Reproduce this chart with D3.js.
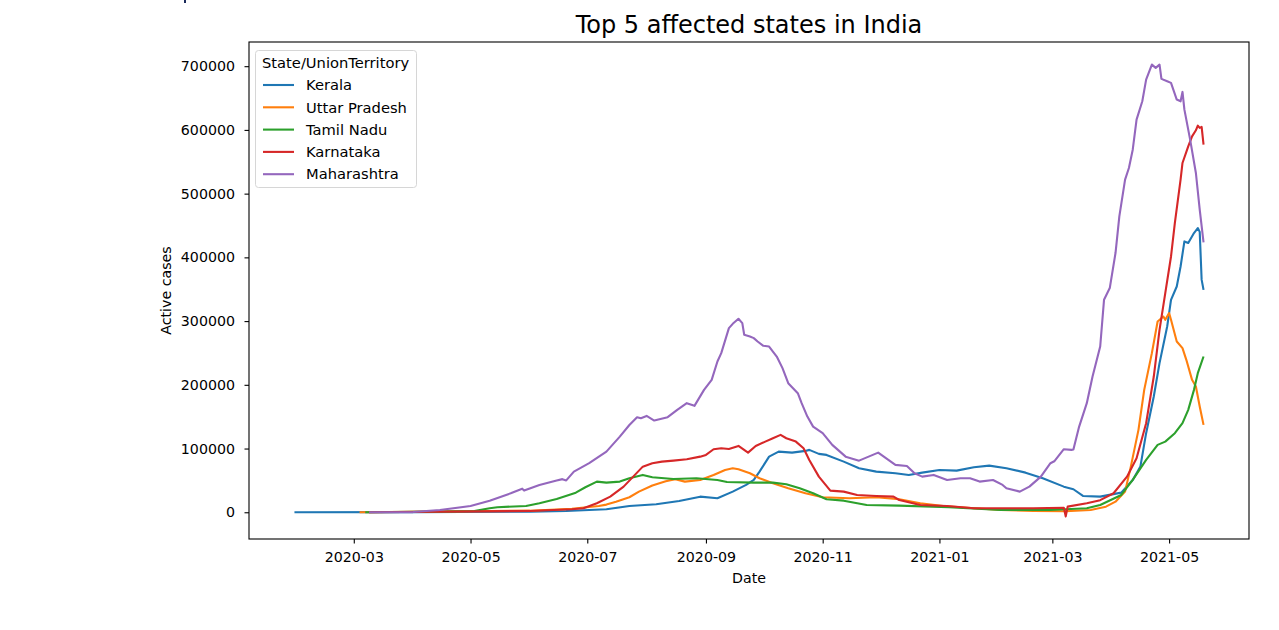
<!DOCTYPE html>
<html>
<head>
<meta charset="utf-8">
<script src="https://cdnjs.cloudflare.com/ajax/libs/d3/7.8.5/d3.min.js"></script>
<style>
	body{margin:0;background:#fff;}
	text{font-family:"DejaVu Sans", sans-serif;}
</style>
</head>
<body>
<div id="chart"></div>
<script>
//********************************* DATA *********************************
var states = ["Kerala", "Uttar Pradesh", "Tamil Nadu", "Karnataka", "Maharashtra"];
var colors = ["#1f77b4", "#ff7f0e", "#2ca02c", "#d62728", "#9467bd"];

var kerala = [["2020-01-30",0],["2020-04-01",200],["2020-06-01",1000],["2020-06-20",2000],["2020-07-11",4700],
	["2020-07-23",9900],["2020-08-06",12600],["2020-08-18",17700],["2020-08-29",24500],["2020-09-07",22000],
	["2020-09-15",32400],["2020-09-22",42900],["2020-09-26",50700],["2020-09-29",63800],["2020-10-04",87300],
	["2020-10-09",95200],["2020-10-16",93600],["2020-10-23",96300],["2020-10-25",97900],["2020-10-30",91600],
	["2020-11-03",90000],["2020-11-12",79500],["2020-11-20",69100],["2020-11-29",63800],["2020-12-09",61200],
	["2020-12-16",58600],["2020-12-23",62200],["2021-01-01",66400],["2021-01-10",65300],["2021-01-19",70700],
	["2021-01-27",73200],["2021-02-05",69100],["2021-02-15",62200],["2021-02-24",53400],["2021-03-07",40200],
	["2021-03-12",36100],["2021-03-17",25600],["2021-03-26",24500],["2021-04-06",30800],["2021-04-12",50700],
	["2021-04-16",71600],["2021-04-19",124100],["2021-04-23",181600],["2021-04-26",234000],["2021-04-30",291500],
	["2021-05-02",333400],["2021-05-05",354300],["2021-05-07",385700],["2021-05-09",425000],["2021-05-11",422500],
	["2021-05-14",438200],["2021-05-16",446000],["2021-05-17",440000],["2021-05-18",365000],["2021-05-19",349000]];

var uttarPradesh = [["2020-03-04",0],["2020-05-01",1500],["2020-06-01",2500],["2020-06-23",5500],["2020-07-07",9900],
	["2020-07-11",12000],["2020-07-16",16600],["2020-07-23",23600],["2020-07-28",32400],["2020-08-04",42000],
	["2020-08-11",48600],["2020-08-16",51800],["2020-08-21",48100],["2020-08-29",50700],["2020-09-05",58600],
	["2020-09-11",66400],["2020-09-15",69100],["2020-09-18",67500],["2020-09-24",61200],["2020-09-29",53400],
	["2020-10-06",45500],["2020-10-14",37700],["2020-10-23",29800],["2020-11-01",23600],["2020-11-15",22000],
	["2020-11-29",23600],["2020-12-11",20400],["2020-12-22",14100],["2021-01-03",9900],["2021-01-16",7200],
	["2021-02-02",3600],["2021-02-19",2000],["2021-03-08",1500],["2021-03-21",3600],["2021-03-29",8800],
	["2021-04-03",16600],["2021-04-08",32400],["2021-04-11",71600],["2021-04-15",129300],["2021-04-18",192100],
	["2021-04-22",249700],["2021-04-25",299400],["2021-04-28",307200],["2021-04-29",302000],["2021-05-01",312500],
	["2021-05-02",302000],["2021-05-05",268000],["2021-05-08",257600],["2021-05-10",239200],["2021-05-13",207800],
	["2021-05-15",197300],["2021-05-17",165900],["2021-05-19",137100]];

var tamilNadu = [["2020-03-07",0],["2020-04-15",1000],["2020-05-03",2000],["2020-05-11",6300],["2020-05-15",7900],
	["2020-05-30",9900],["2020-06-06",14100],["2020-06-15",20900],["2020-06-25",30800],["2020-06-30",39300],
	["2020-07-06",48100],["2020-07-11",46500],["2020-07-18",48100],["2020-07-23",53400],["2020-07-30",58600],
	["2020-08-04",55000],["2020-08-15",52300],["2020-08-27",53400],["2020-09-07",50700],["2020-09-12",47600],
	["2020-09-26",46500],["2020-10-06",46500],["2020-10-13",44000],["2020-10-20",37700],["2020-10-27",29800],
	["2020-11-03",20400],["2020-11-12",18200],["2020-11-24",11500],["2020-12-11",10400],["2021-01-06",7900],
	["2021-02-02",3600],["2021-02-28",3600],["2021-03-19",6300],["2021-03-26",11500],["2021-04-06",27200],
	["2021-04-12",50700],["2021-04-19",82100],["2021-04-25",105700],["2021-04-29",110900],["2021-05-04",124100],
	["2021-05-08",139800],["2021-05-11",160700],["2021-05-14",192100],["2021-05-16",218300],["2021-05-19",244400]];

var karnataka = [["2020-03-09",0],["2020-06-01",2000],["2020-06-23",4700],["2020-06-29",6300],["2020-07-06",14100],
	["2020-07-13",24500],["2020-07-20",40200],["2020-07-25",55900],["2020-07-30",71600],["2020-08-04",77000],
	["2020-08-09",79500],["2020-08-15",81000],["2020-08-22",83200],["2020-08-29",87300],["2020-09-01",90000],
	["2020-09-05",98900],["2020-09-09",100500],["2020-09-13",99400],["2020-09-18",104100],["2020-09-23",93600],
	["2020-09-27",104100],["2020-10-02",110900],["2020-10-06",116200],["2020-10-10",121400],["2020-10-13",116200],
	["2020-10-18",110900],["2020-10-22",100500],["2020-10-25",82100],["2020-10-30",55900],["2020-11-05",34000],
	["2020-11-12",32400],["2020-11-19",27200],["2020-11-29",25600],["2020-12-08",24500],["2020-12-11",19300],
	["2020-12-22",11500],["2021-01-05",9900],["2021-01-19",6300],["2021-02-02",6300],["2021-02-19",6300],
	["2021-03-07",7200],["2021-03-08",-6500],["2021-03-09",8800],["2021-03-19",14100],["2021-03-26",19000],
	["2021-04-02",29800],["2021-04-09",55900],["2021-04-14",84800],["2021-04-19",139800],["2021-04-23",213000],
	["2021-04-26",286300],["2021-04-29",344000],["2021-05-02",401400],["2021-05-04",453900],["2021-05-07",521900],
	["2021-05-08",548100],["2021-05-11",574200],["2021-05-13",589900],["2021-05-15",599400],["2021-05-16",606700],
	["2021-05-17",603100],["2021-05-18",604700],["2021-05-19",576900]];

var maharashtra = [["2020-03-09",0],["2020-03-20",50],["2020-04-01",300],["2020-04-15",3500],["2020-05-01",9900],
	["2020-05-11",18000],["2020-05-22",29800],["2020-05-28",37000],["2020-05-29",34000],["2020-06-06",42900],
	["2020-06-15",50000],["2020-06-18",52000],["2020-06-20",50000],["2020-06-24",63800],["2020-07-02",77000],
	["2020-07-11",95200],["2020-07-18",118700],["2020-07-23",137000],["2020-07-27",149200],["2020-07-29",147600],
	["2020-08-01",151200],["2020-08-05",143900],["2020-08-12",149200],["2020-08-17",160600],["2020-08-22",171200],
	["2020-08-26",167000],["2020-08-31",192000],["2020-09-04",207800],["2020-09-07",236500],["2020-09-09",249700],
	["2020-09-13",289000],["2020-09-15",295700],["2020-09-18",303600],["2020-09-20",296800],["2020-09-21",278500],
	["2020-09-24",275800],["2020-09-26",273300],["2020-09-28",268000],["2020-10-01",261200],["2020-10-04",260100],
	["2020-10-08",244400],["2020-10-11",226200],["2020-10-14",202600],["2020-10-19",186900],["2020-10-21",171200],
	["2020-10-24",150200],["2020-10-27",134400],["2020-11-01",124100],["2020-11-06",105700],["2020-11-13",87300],
	["2020-11-20",81000],["2020-11-30",93600],["2020-12-09",74300],["2020-12-15",72700],["2020-12-19",61200],
	["2020-12-23",55900],["2020-12-29",58600],["2021-01-05",50700],["2021-01-12",53400],["2021-01-17",53400],
	["2021-01-22",48100],["2021-01-29",50700],["2021-02-03",42900],["2021-02-05",37700],["2021-02-12",32400],
	["2021-02-17",40200],["2021-02-23",55900],["2021-02-28",77000],["2021-03-02",80000],["2021-03-07",99000],
	["2021-03-11",97900],["2021-03-12",98500],["2021-03-15",134400],["2021-03-19",171200],["2021-03-22",213000],
	["2021-03-26",260100],["2021-03-28",333400],["2021-03-31",351800],["2021-04-03",406800],["2021-04-05",464300],
	["2021-04-08",521900],["2021-04-10",540300],["2021-04-12",569000],["2021-04-14",616100],["2021-04-17",644900],
	["2021-04-19",679000],["2021-04-22",702500],["2021-04-24",697300],["2021-04-26",702500],["2021-04-27",680100],
	["2021-04-30",676300],["2021-05-02",673800],["2021-05-05",647600],["2021-05-07",644900],["2021-05-08",659600],
	["2021-05-09",631800],["2021-05-12",584700],["2021-05-15",532400],["2021-05-17",474800],["2021-05-19",423400]];

var xTickLabels = ["2020-03","2020-05","2020-07","2020-09","2020-11","2021-01","2021-03","2021-05"];
var yTickValues = [0,100000,200000,300000,400000,500000,600000,700000];

//********************************* SETUP *********************************
var width = 1279, height = 630;
var plotLeft = 249, plotRight = 1249, plotTop = 42, plotBottom = 539;
var fontSize = "14.2px";
var legendFontSize = "14.7px";

var parseDay = d3.timeParse("%Y-%m-%d");
var parseMonth = d3.timeParse("%Y-%m");
var series = [kerala, uttarPradesh, tamilNadu, karnataka, maharashtra];

var svg = d3.select("#chart")
			.append("svg")
			.attr("width", width)
			.attr("height", height);

//matplotlib style 5% margins on both axes
var allPoints = d3.merge(series);
var xExtent = d3.extent(allPoints, function(d){ return parseDay(d[0]); });
var yExtent = d3.extent(allPoints, function(d){ return d[1]; });
var xPad = (xExtent[1] - xExtent[0]) * 0.05;
var yPad = (yExtent[1] - yExtent[0]) * 0.05;

var x = d3.scaleTime()
			.domain([new Date(+xExtent[0] - xPad), new Date(+xExtent[1] + xPad)])
			.range([plotLeft, plotRight]);
var y = d3.scaleLinear()
			.domain([yExtent[0] - yPad, yExtent[1] + yPad])
			.range([plotBottom, plotTop]);

//********************************* AXES *********************************
var xAxis = d3.axisBottom(x)
			.tickValues(xTickLabels.map(parseMonth))
			.tickFormat(d3.timeFormat("%Y-%m"))
			.tickSize(4.5)
			.tickPadding(8.2);
var yAxis = d3.axisLeft(y)
			.tickValues(yTickValues)
			.tickFormat(d3.format("d"))
			.tickSize(4.5)
			.tickPadding(9.5);

var gx = svg.append("g").attr("transform", "translate(0," + plotBottom + ")").call(xAxis);
var gy = svg.append("g").attr("transform", "translate(" + plotLeft + ",0)").call(yAxis);
[gx, gy].forEach(function(g){
	g.select(".domain").remove();
	g.selectAll("line").attr("stroke", "#000").attr("stroke-width", 1.1);
	g.selectAll("text").attr("fill", "#000").style("font-size", fontSize).style("font-family", "DejaVu Sans");
});

//********************************* LINES *********************************
var line = d3.line()
			.x(function(d){ return x(parseDay(d[0])); })
			.y(function(d){ return y(d[1]); });

svg.append("defs").append("clipPath").attr("id", "plotClip")
	.append("rect").attr("x", plotLeft).attr("y", plotTop)
	.attr("width", plotRight - plotLeft).attr("height", plotBottom - plotTop);

for(var i = 0; i < series.length; ++i){
	svg.append("path")
		.datum(series[i])
		.attr("d", line)
		.attr("fill", "none")
		.attr("stroke", colors[i])
		.attr("stroke-width", 2.1)
		.attr("stroke-linejoin", "round")
		.attr("clip-path", "url(#plotClip)");
}

//frame
svg.append("rect")
	.attr("x", plotLeft).attr("y", plotTop)
	.attr("width", plotRight - plotLeft).attr("height", plotBottom - plotTop)
	.attr("fill", "none")
	.attr("stroke", "#000")
	.attr("stroke-width", 1.1);

//********************************* TEXT *********************************
svg.append("text")
	.text("Top 5 affected states in India")
	.attr("x", (plotLeft + plotRight) / 2)
	.attr("y", 33)
	.attr("text-anchor", "middle")
	.style("font-size", "24px")
	.attr("fill", "#000");

svg.append("text")
	.text("Date")
	.attr("x", (plotLeft + plotRight) / 2)
	.attr("y", 583)
	.attr("text-anchor", "middle")
	.style("font-size", fontSize)
	.attr("fill", "#000");

svg.append("text")
	.text("Active cases")
	.attr("transform", "translate(171," + ((plotTop + plotBottom) / 2) + ") rotate(-90)")
	.attr("text-anchor", "middle")
	.style("font-size", fontSize)
	.attr("fill", "#000");

//tiny mark at the very top left of the picture
svg.append("rect").attr("x", 184).attr("y", 0).attr("width", 2).attr("height", 3).attr("fill", "#1a2a5a");

//********************************* LEGEND *********************************
var legend = svg.append("g");
legend.append("rect")
	.attr("x", 255.5).attr("y", 50.5)
	.attr("width", 161).attr("height", 137)
	.attr("rx", 3)
	.attr("fill", "#fff")
	.attr("fill-opacity", 0.8)
	.attr("stroke", "#d6d6d6")
	.attr("stroke-width", 1);

legend.append("text")
	.text("State/UnionTerritory")
	.attr("x", 262)
	.attr("y", 67.5)
	.style("font-size", legendFontSize)
	.attr("fill", "#000");

for(var j = 0; j < states.length; ++j){
	var ly = 85 + j * 22.3;
	legend.append("line")
		.attr("x1", 263).attr("x2", 294)
		.attr("y1", ly).attr("y2", ly)
		.attr("stroke", colors[j])
		.attr("stroke-width", 2.1);
	legend.append("text")
		.text(states[j])
		.attr("x", 306)
		.attr("y", ly + 5.2)
		.style("font-size", legendFontSize)
		.attr("fill", "#000");
}
</script>
</body>
</html>
